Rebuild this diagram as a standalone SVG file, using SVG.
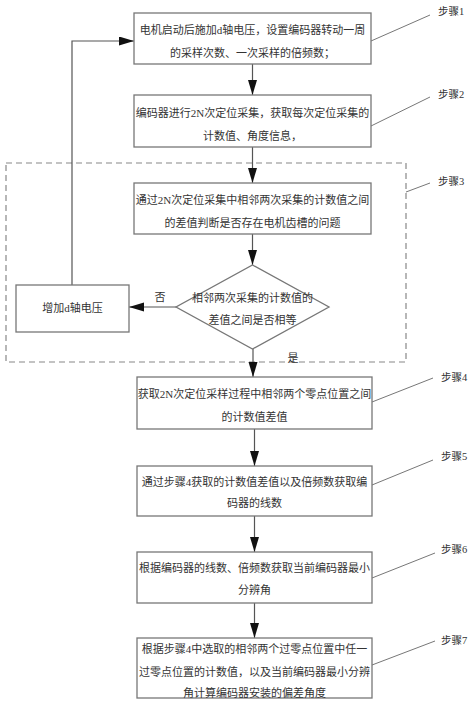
<svg xmlns="http://www.w3.org/2000/svg" width="474" height="704" viewBox="0 0 474 704">
<defs>
<marker id="ah" markerUnits="userSpaceOnUse" markerWidth="15" markerHeight="10" refX="15" refY="4.5" orient="auto">
<path d="M0,0 L15,4.5 L0,9 z" fill="#111"/>
</marker>
<style>
.box{fill:#fff;stroke:#777;stroke-width:1.3}
.t{font-family:"Liberation Serif","Noto Sans CJK SC",serif;font-size:11px;fill:#333;text-anchor:middle}
.s{font-family:"Liberation Serif","Noto Sans CJK SC",serif;font-size:10.5px;fill:#333}
.ln{fill:none;stroke:#555;stroke-width:1.2}
.ld{fill:none;stroke:#777;stroke-width:1}
</style>
</defs>
<rect width="474" height="704" fill="#fff"/>
<rect x="6" y="163" width="400" height="199" fill="none" stroke="#888" stroke-width="1.2" stroke-dasharray="6,4"/>
<g id="connectors">
<path class="ln" d="M252.5,64 V95" marker-end="url(#ah)"/>
<path class="ln" d="M252.5,147 V183" marker-end="url(#ah)"/>
<path class="ln" d="M252.5,234 V265" marker-end="url(#ah)"/>
<path class="ln" d="M176,307 H129" marker-end="url(#ah)"/>
<path class="ln" d="M72,285 V41 H134" marker-end="url(#ah)"/>
<path class="ln" d="M253,349 V377" marker-end="url(#ah)"/>
<path class="ln" d="M254.5,429 V466" marker-end="url(#ah)"/>
<path class="ln" d="M254.5,516 V552" marker-end="url(#ah)"/>
<path class="ln" d="M254.5,603 V638" marker-end="url(#ah)"/>
<path class="ld" d="M371,41 L430,15"/>
<path class="ld" d="M371,126 L430,97"/>
<path class="ld" d="M406,192 L430,183"/>
<path class="ld" d="M372,402 L433,378"/>
<path class="ld" d="M372,485 L433,460"/>
<path class="ld" d="M372,578 L435,553"/>
<path class="ld" d="M372,665 L435,641"/>
<text class="t" x="160" y="301">否</text>
<text class="t" x="293" y="362">是</text>
</g>
<g id="step1">
<rect class="box" x="134" y="13" width="237" height="51"/>
<text class="t" x="252.5" y="34">电机启动后施加d轴电压，设置编码器转动一周</text>
<text class="t" x="252.5" y="57">的采样次数、一次采样的倍频数；</text>
<text class="s" x="438" y="15">步骤1</text>
</g>
<g id="step2">
<rect class="box" x="134" y="95" width="237" height="52"/>
<text class="t" x="252.5" y="117">编码器进行2N次定位采集，获取每次定位采集的</text>
<text class="t" x="252.5" y="140">计数值、角度信息，</text>
<text class="s" x="438" y="98">步骤2</text>
</g>
<g id="step3">
<rect class="box" x="134" y="183" width="237" height="51"/>
<text class="t" x="252.5" y="204">通过2N次定位采集中相邻两次采集的计数值之间</text>
<text class="t" x="252.5" y="227">的差值判断是否存在电机齿槽的问题</text>
<text class="s" x="438" y="185">步骤3</text>
</g>
<g id="decision">
<path class="box" d="M252.5,265 L329,307 L252.5,349 L176,307 z"/>
<text class="t" x="252.5" y="302">相邻两次采集的计数值的</text>
<text class="t" x="252.5" y="324">差值之间是否相等</text>
</g>
<g id="increase">
<rect class="box" x="16" y="285" width="113" height="47"/>
<text class="t" x="72.5" y="312">增加d轴电压</text>
</g>
<g id="step4">
<rect class="box" x="137" y="377" width="235" height="52"/>
<text class="t" x="254.5" y="398">获取2N次定位采样过程中相邻两个零点位置之间</text>
<text class="t" x="254.5" y="421">的计数值差值</text>
<text class="s" x="441" y="381">步骤4</text>
</g>
<g id="step5">
<rect class="box" x="137" y="466" width="235" height="50"/>
<text class="t" x="254.5" y="486">通过步骤4获取的计数值差值以及倍频数获取编</text>
<text class="t" x="254.5" y="507">码器的线数</text>
<text class="s" x="441" y="460">步骤5</text>
</g>
<g id="step6">
<rect class="box" x="137" y="552" width="235" height="51"/>
<text class="t" x="254.5" y="572">根据编码器的线数、倍频数获取当前编码器最小</text>
<text class="t" x="254.5" y="594">分辨角</text>
<text class="s" x="441" y="553">步骤6</text>
</g>
<g id="step7">
<rect class="box" x="137" y="638" width="235" height="60"/>
<text class="t" x="254.5" y="653">根据步骤4中选取的相邻两个过零点位置中任一</text>
<text class="t" x="254.5" y="676">过零点位置的计数值，以及当前编码器最小分辨</text>
<text class="t" x="254.5" y="697">角计算编码器安装的偏差角度</text>
<text class="s" x="441" y="644">步骤7</text>
</g>
</svg>
